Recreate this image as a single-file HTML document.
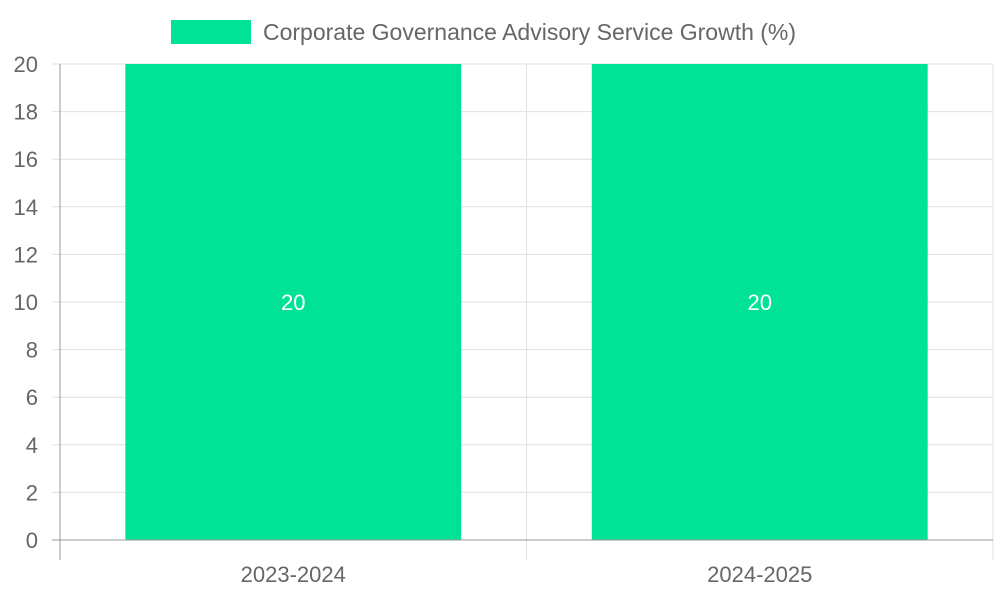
<!DOCTYPE html>
<html><head><meta charset="utf-8"><style>
html,body{margin:0;padding:0;background:#fff;}
svg{display:block;font-family:"Liberation Sans",sans-serif;}
</style></head><body>
<svg id="chart" width="1000" height="600">
<g>
<rect x="171" y="20" width="80" height="24" fill="#00e396"></rect>
<text x="263" y="40" font-size="23" fill="#666">Corporate Governance Advisory Service Growth (%)</text>
</g>
<g id="grid"></g>
<g id="bars"></g>
<g id="axes"></g>
</svg>
<script>
const categories = ["2023-2024", "2024-2025"];
const values = [20, 20];
const yTicks = [0, 2, 4, 6, 8, 10, 12, 14, 16, 18, 20];

const NS = "http://www.w3.org/2000/svg";
const L = 60, R = 993, T = 64, B = 540, yMax = 20;
const y = v => B - (v / yMax) * (B - T);
const bw = (R - L) / categories.length;
const xc = i => L + bw * (i + 0.5);
function mk(tag, attrs, parent) {
  const e = document.createElementNS(NS, tag);
  for (const k in attrs) e.setAttribute(k, attrs[k]);
  parent.appendChild(e);
  return e;
}
const grid = document.getElementById("grid");
const bars = document.getElementById("bars");
const axes = document.getElementById("axes");

yTicks.forEach(t => {
  const ln = mk("line", {x1: L - 8, x2: R, y1: y(t), y2: y(t), stroke: t === 0 ? "#999" : "#e0e0e0", "stroke-width": 1}, t === 0 ? axes : grid);
  
  
  const tx = mk("text", {x: L - 22, y: y(t) + 8, "text-anchor": "end", "font-size": 22, fill: "#666"}, axes);
  tx.textContent = t;
  
  
});
for (let i = 0; i <= categories.length; i++) {
  const x = L + bw * i;
  const ln = mk("line", {x1: x, x2: x, y1: T, y2: B + 20, stroke: i === 0 ? "#999" : "#e0e0e0", "stroke-width": 1}, i === 0 ? axes : grid);
  
  
}
categories.forEach((c, i) => {
  const w = bw * 0.72;
  const r = mk("rect", {x: xc(i) - w / 2, y: y(values[i]), width: w, height: B - y(values[i]), fill: "#00e396"}, bars);
  
  
  const vl = mk("text", {x: xc(i), y: (y(values[i]) + B) / 2 + 8, "text-anchor": "middle", "font-size": 22, fill: "#fff"}, bars);
  vl.textContent = values[i];
  
  
  const cl = mk("text", {x: xc(i), y: 582, "text-anchor": "middle", "font-size": 22, fill: "#666"}, axes);
  cl.textContent = c;
  
  
});
</script>
</body></html>
